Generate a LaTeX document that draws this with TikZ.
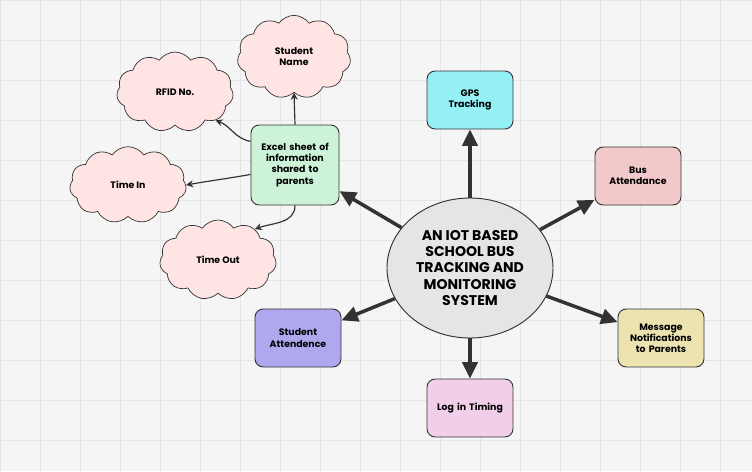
\documentclass[tikz,border=0pt]{standalone}
\usepackage{fontspec}
\setmainfont{Poppins}
\usetikzlibrary{shapes.symbols,shapes.geometric,arrows.meta}
\definecolor{bg}{HTML}{F5F5F5}
\definecolor{gridc}{HTML}{E6E6E6}
\definecolor{edge}{HTML}{333333}
\definecolor{cloudc}{HTML}{FFE4E4}
\tikzset{
  x=0.03cm,y=-0.03cm,
  box/.style={draw=edge,line width=0.8pt,rounded corners=7pt,minimum width=2.58cm,minimum height=1.74cm,align=center,font=\bfseries\footnotesize,text width=2.5cm,inner sep=1pt},
  cl/.style={cloud,cloud puffs=11,cloud puff arc=110,draw=edge,line width=0.6pt,fill=cloudc,aspect=1.45,font=\bfseries\footnotesize,align=center},
  big/.style={draw=edge,line width=3pt,-{Triangle[length=14pt,width=13pt]}},
  sm/.style={draw=edge,line width=1pt,-{Stealth[length=6pt,width=6pt]}}
}
\begin{document}
\begin{tikzpicture}
\fill[bg] (0,0) rectangle (752,471);
\useasboundingbox (0,0) rectangle (752,471);
\foreach \i in {0,40,...,752} \draw[gridc,line width=0.5pt] (\i,0)--(\i,471);
\foreach \j in {0,40,...,471} \draw[gridc,line width=0.5pt] (0,\j)--(752,\j);

\node[ellipse,draw=edge,line width=0.8pt,fill=gray!20,minimum width=4.98cm,minimum height=4.2cm,inner sep=1pt,align=center,font=\bfseries\large] (c) at (470,268) {AN IOT BASED\\SCHOOL BUS\\TRACKING AND\\MONITORING\\SYSTEM};

\node[box,fill={rgb,255:red,204;green,242;blue,216},minimum width=2.64cm,minimum height=2.4cm] (ex) at (295,165) {Excel sheet of\\information\\shared to\\parents};
\node[box,fill={rgb,255:red,148;green,240;blue,245}] (gps) at (470,100) {GPS\\Tracking};
\node[box,fill={rgb,255:red,242;green,201;blue,203}] (ba) at (638,176) {Bus\\Attendance};
\node[box,fill={rgb,255:red,174;green,168;blue,239}] (sa) at (298,338) {Student\\Attendence};
\node[box,fill={rgb,255:red,242;green,207;blue,233}] (lt) at (470,408) {Log in Timing};
\node[box,fill={rgb,255:red,236;green,227;blue,176}] (mn) at (661,338) {Message\\Notifications\\to Parents};

\node[cl,minimum width=3.4cm,minimum height=2.5cm] (sn) at (294,57) {Student\\Name};
\node[cl,minimum width=3.5cm,minimum height=2.4cm] (rf) at (175,92) {RFID No.};
\node[cl,minimum width=3.5cm,minimum height=2.3cm] (ti) at (128,185) {Time In};
\node[cl,minimum width=3.5cm,minimum height=2.4cm] (to) at (218,260) {Time Out};

\draw[big] (c) -- (ex);
\draw[big] (c) -- (gps);
\draw[big] (c) -- (ba);
\draw[big] (c) -- (sa);
\draw[big] (c) -- (lt);
\draw[big] (c) -- (mn);

\draw[sm] (ex.north) -- (sn.south);
\draw[sm] (ex.152) to[out=170,in=-20] (rf.-35);
\draw[sm] (ex.192) to[out=190,in=10] (ti.east);
\draw[sm] (ex.south) to[out=-90,in=20] (to.40);
\end{tikzpicture}
\end{document}
